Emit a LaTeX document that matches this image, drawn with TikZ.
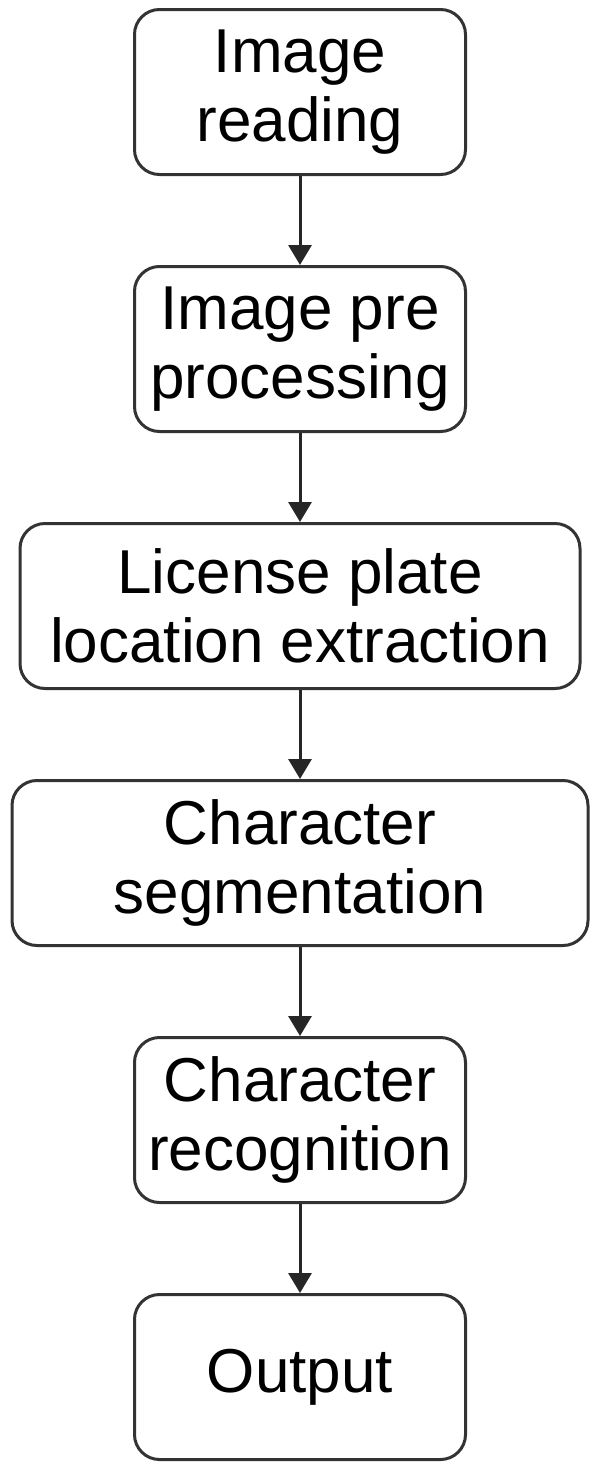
\documentclass[tikz,border=0pt]{standalone}
\usepackage{fontspec}
\setmainfont{Liberation Sans}
\usetikzlibrary{positioning,arrows.meta}
\begin{document}
\begin{tikzpicture}[x=1pt,y=1pt,>={Triangle[width=23pt,length=20pt]},line join=round,
	node distance=89pt,
	stage/.style={draw=black!80,line width=3pt,rounded corners=25pt,align=center,
		minimum width=331pt,minimum height=165pt,inner sep=0pt,
		font=\fontsize{62}{69}\selectfont},
	link/.style={->,line width=3pt,black!85}]
	\useasboundingbox (0,0) rectangle (598,-1467);
	\node[stage] (read) at (300,-92) {Image\\reading};
	\node[stage,below=of read] (pre) {Image pre\\processing};
	\node[stage,below=of pre,minimum width=560pt] (loc) {License plate\\location extraction};
	\node[stage,below=of loc,minimum width=576pt] (seg) {Character\\segmentation};
	\node[stage,below=of seg] (rec) {Character\\recognition};
	\node[stage,below=of rec] (out) {Output};
	% arrows between stages
	\foreach \a/\b in {read/pre,pre/loc,loc/seg,seg/rec,rec/out}
	\draw[link] (\a) -- (\b);
\end{tikzpicture}
\end{document}
